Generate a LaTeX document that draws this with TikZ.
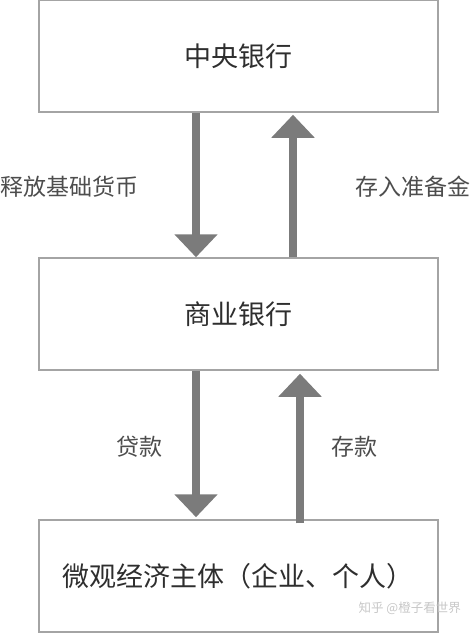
\documentclass[tikz,border=0pt]{standalone}
\usepackage{fontspec}
\setmainfont{Noto Sans CJK SC}
\usepackage{tikz}
\usetikzlibrary{arrows.meta, positioning}
\definecolor{boxline}{HTML}{A4A4A4}
\definecolor{flow}{HTML}{7B7B7B}
\definecolor{ink}{HTML}{2E2E2E}

\begin{document}
\begin{tikzpicture}[x=1pt,y=-1pt,node distance=258pt,on grid,
        level/.style={draw=boxline,line width=1.5pt,minimum width=399pt,minimum height=112pt,
          inner sep=0pt,text=ink,font=\fontsize{27pt}{32pt}\selectfont},
        flowarrow/.style={draw=flow,line width=8.5pt,-{Triangle[width=42pt,length=23pt]}},
        flowlabel/.style={text=ink!85,font=\fontsize{23pt}{28pt}\selectfont,inner sep=0pt}]
    \useasboundingbox (0,0) rectangle (474,633);

      \node[level]  (central) at (238.5,56)        {中央银行};
      \node[level]  (commercial) [below=of central] {商业银行};
      \node[level]  (micro) [below=262pt of commercial] {微观经济主体（企业、个人）};
      \node[text=black!22,font=\fontsize{12.5pt}{15pt}\selectfont,anchor=east,inner sep=0pt] (mark) at (461,608) {知乎 @橙子看世界};

      \draw[flowarrow] ([xshift=-42.5pt]central.south) -- ([xshift=-42.5pt]commercial.north);
      \draw[flowarrow] ([xshift=54.5pt]commercial.north) -- ([xshift=54.5pt,yshift=-2pt]central.south);
      \draw[flowarrow] ([xshift=-42.5pt]commercial.south) -- ([xshift=-42.5pt,yshift=2pt]micro.north);
      \draw[flowarrow] ([xshift=61.5pt,yshift=-4pt]micro.north) -- ([xshift=61.5pt,yshift=-3pt]commercial.south);

      \node[flowlabel,anchor=west] (release) at (0,187) {释放基础货币};
      \node[flowlabel,anchor=east] (reserve) at (471,187) {存入准备金};
      \node[flowlabel] (loan) at (139.5,447) {贷款};
      \node[flowlabel] (deposit) at (354.5,447) {存款};
    \end{tikzpicture}
\end{document}
